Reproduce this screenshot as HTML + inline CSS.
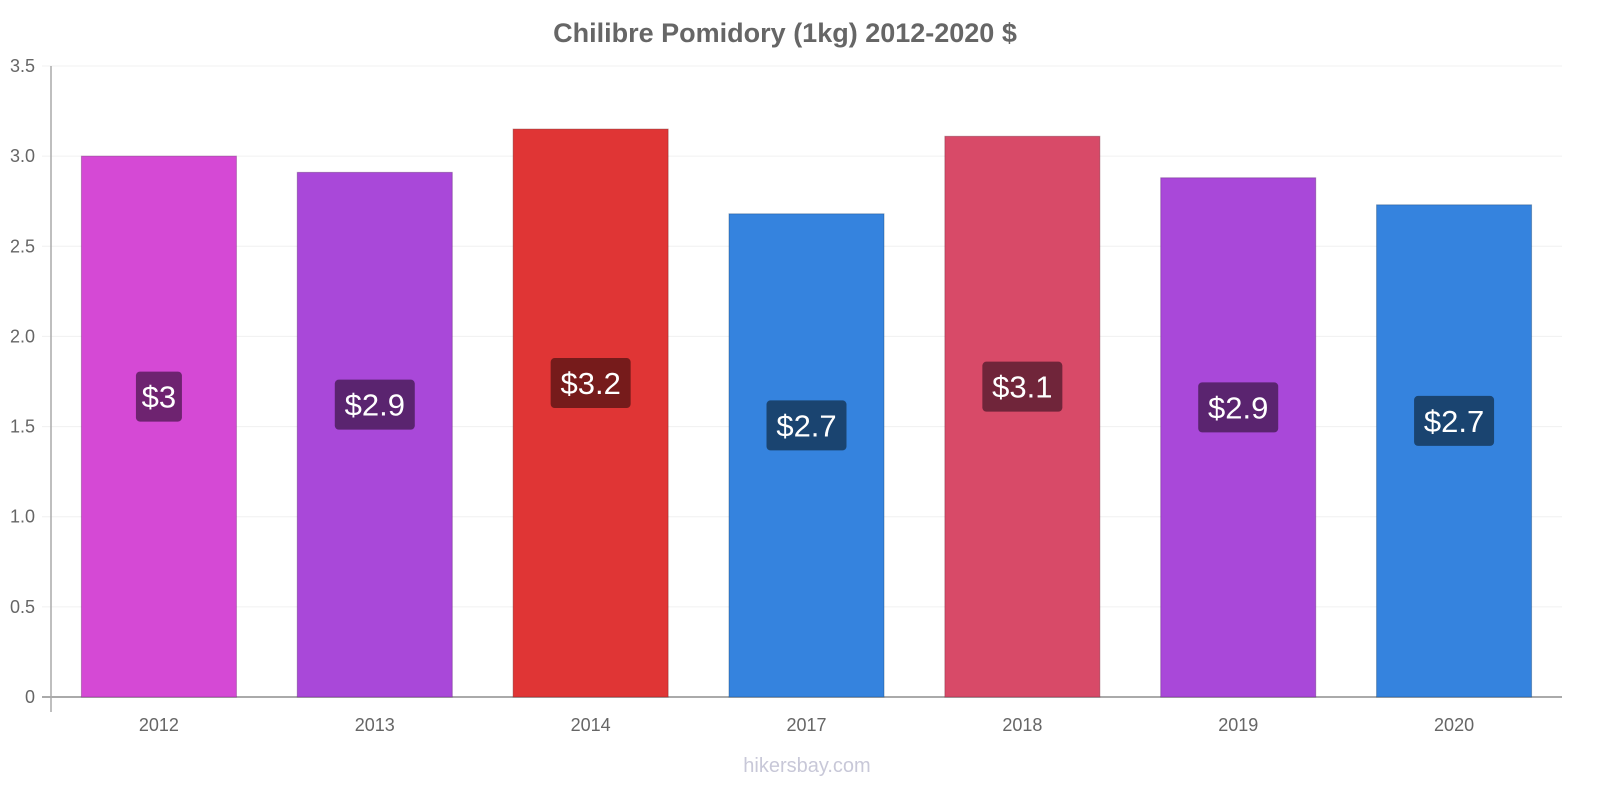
<!DOCTYPE html>
<html><head><meta charset="utf-8"><style>
html,body{margin:0;padding:0;background:#fff;overflow:hidden;width:1600px;height:800px;}
svg{font-family:"Liberation Sans",sans-serif;display:block;}
</style></head><body>
<svg id="chart" width="1600" height="800">
<text x="785" y="42" text-anchor="middle" font-size="27" font-weight="bold" fill="#666">Chilibre Pomidory (1kg) 2012-2020 $</text>
<g id="grid"></g><g id="bars"></g><g id="axes"></g>
<text x="807" y="772" text-anchor="middle" font-size="20" fill="#c8c8d8">hikersbay.com</text>
</svg>
<script>
const categories=["2012","2013","2014","2017","2018","2019","2020"];
const values=[3.0,2.91,3.15,2.68,3.11,2.88,2.73];
const labels=["$3","$2.9","$3.2","$2.7","$3.1","$2.9","$2.7"];
const yTicks=[0,0.5,1.0,1.5,2.0,2.5,3.0,3.5];
const barColors=["#d549d5","#a948d9","#e03535","#3583de","#d84a68","#a948d9","#3583de"];
const labelColors=["#6e2370","#5a246f","#761b1b","#1a4470","#70253a","#5a246f","#1a4470"];
const NS="http://www.w3.org/2000/svg";
const x0=51,x1=1562,y0=697,yTop=66,yMax=3.5;
const y=v=>y0-(v/yMax)*(y0-yTop);
const bw=(x1-x0)/categories.length;
const xc=i=>x0+bw*(i+0.5);
function mk(t,a,p){const e=document.createElementNS(NS,t);for(const k in a)e.setAttribute(k,a[k]);p.appendChild(e);return e;}
const grid=document.getElementById('grid'),bars=document.getElementById('bars'),axes=document.getElementById('axes');
yTicks.forEach(t=>{
 const l=mk('line',{x1:42,x2:x1,y1:y(t),y2:y(t),stroke:t===0?'#aaa':'#f0f0f0','stroke-width':t===0?2:1},grid);
 
 
 const tx=mk('text',{x:35,y:y(t)+6,'text-anchor':'end','font-size':18,fill:'#666'},axes);
 tx.textContent=t===0?'0':t.toFixed(1);
 
 
});
const ax=mk('line',{x1:x0,x2:x0,y1:yTop,y2:712,stroke:'#aaa','stroke-width':1.5},axes);


categories.forEach((c,i)=>{
 const v=values[i],cx=xc(i),w=155;
 const r=mk('rect',{x:cx-w/2,y:y(v),width:w,height:y0-y(v),fill:barColors[i],stroke:labelColors[i],'stroke-opacity':0.4},bars);
 
 
 const ly=(y(v)+y0)/2-30;
 const tw=labels[i].length*17+12;
 const lb=mk('rect',{x:cx-tw/2,y:ly-25,width:tw,height:50,rx:4,fill:labelColors[i]},bars);
 
 
 const lt=mk('text',{x:cx,y:ly+11,'text-anchor':'middle','font-size':31,fill:'#fff'},bars);
 lt.textContent=labels[i];
 
 
 const xt=mk('text',{x:cx,y:731,'text-anchor':'middle','font-size':18,fill:'#666'},axes);
 xt.textContent=c;
 
 
});
</script>
</body></html>
